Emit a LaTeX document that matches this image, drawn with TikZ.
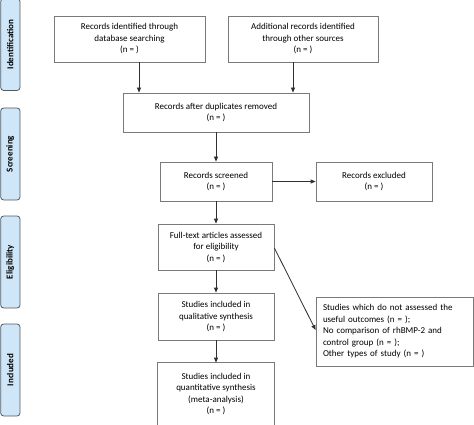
\documentclass[tikz,border=0pt]{standalone}
\usepackage{fontspec}
\setmainfont{Carlito}
\usetikzlibrary{arrows.meta}
\definecolor{boxline}{HTML}{7A7A7A}
\definecolor{arrline}{HTML}{303030}
\definecolor{sidefill}{HTML}{CFE6F8}
\definecolor{sideline}{HTML}{4F5B66}
\begin{document}
\begin{tikzpicture}[x=1pt,y=-1pt,
  box/.style={draw=boxline, line width=0.8pt, fill=white, inner sep=0pt, align=center,
    font=\fontsize{9}{11.5}\selectfont},
  sidebox/.style={draw=sideline, line width=0.8pt, fill=sidefill, rounded corners=3pt,
    rotate=90, minimum width=92pt, minimum height=19.3pt, inner sep=0pt,
    font=\bfseries\fontsize{9}{11}\selectfont},
  arr/.style={draw=arrline, line width=0.8pt, -{Triangle[length=5pt,width=4pt]}}]
\useasboundingbox (0,0) rectangle (474,425);
\begin{scope}
\clip (0,0) rectangle (474,425);
% side labels
\node[sidebox] (sid) at (10.35,44.5) {Identification};
\node[sidebox] (sscr) at (10.35,154) {Screening};
\node[sidebox] (selig) at (10.35,262) {Eligibility};
\node[sidebox] (sinc) at (10.35,370) {Included};
% boxes
\node[box, minimum width=151pt, minimum height=46pt] (rid) at (129.5,39)
  {Records identified through\\database searching\\(n = )};
\node[box, minimum width=150pt, minimum height=46pt] (add) at (303,39)
  {Additional records identified\\through other sources\\(n = )};
\node[box, minimum width=186pt, minimum height=39pt] (dup) at (216,112.5)
  {Records after duplicates removed\\(n = )};
\node[box, minimum width=112pt, minimum height=39pt] (scr) at (216,181.5)
  {Records screened\\(n = )};
\node[box, minimum width=116pt, minimum height=39pt] (exc) at (374,181.5)
  {Records excluded\\(n = )};
\node[box, minimum width=116pt, minimum height=46pt] (full) at (216,247)
  {Full-text articles assessed\\for eligibility\\(n = )};
\node[box, minimum width=116pt, minimum height=47pt] (qual) at (216,316.5)
  {Studies included in\\qualitative synthesis\\(n = )};
\node[box, draw=none, minimum width=116pt, minimum height=62pt] (quant) at (216,394)
  {Studies included in\\quantitative synthesis\\(meta-analysis)\\(n = )};
\draw[boxline, line width=0.8pt] ([yshift=-4pt]quant.south west) -- (quant.north west)
  -- (quant.north east) -- ([yshift=-4pt]quant.south east);
\node[box, align=left, text width=143pt, inner xsep=7pt, minimum height=69pt] (exc2) at (394.5,331.5)
  {Studies which do not assessed the\\useful outcomes (n = );\\No comparison of rhBMP-2 and\\control group (n = );\\Other types of study (n = )};
% connectors
\coordinate (c1) at (139,0);
\coordinate (c2) at (293,0);
\coordinate (f1) at (274,248);
\coordinate (f2) at (316,330);
\draw[arr] (rid.south -| c1) -- (dup.north -| c1);
\draw[arr] (add.south -| c2) -- (dup.north -| c2);
\draw[arr] (dup) -- (scr);
\draw[arr] (scr) -- (exc);
\draw[arr] (scr) -- (full);
\draw[arr] (full) -- (qual);
\draw[arr] (qual) -- (quant);
\draw[arr] (full.east |- f1) -- (exc2.west |- f2);
\end{scope}
\end{tikzpicture}
\end{document}
